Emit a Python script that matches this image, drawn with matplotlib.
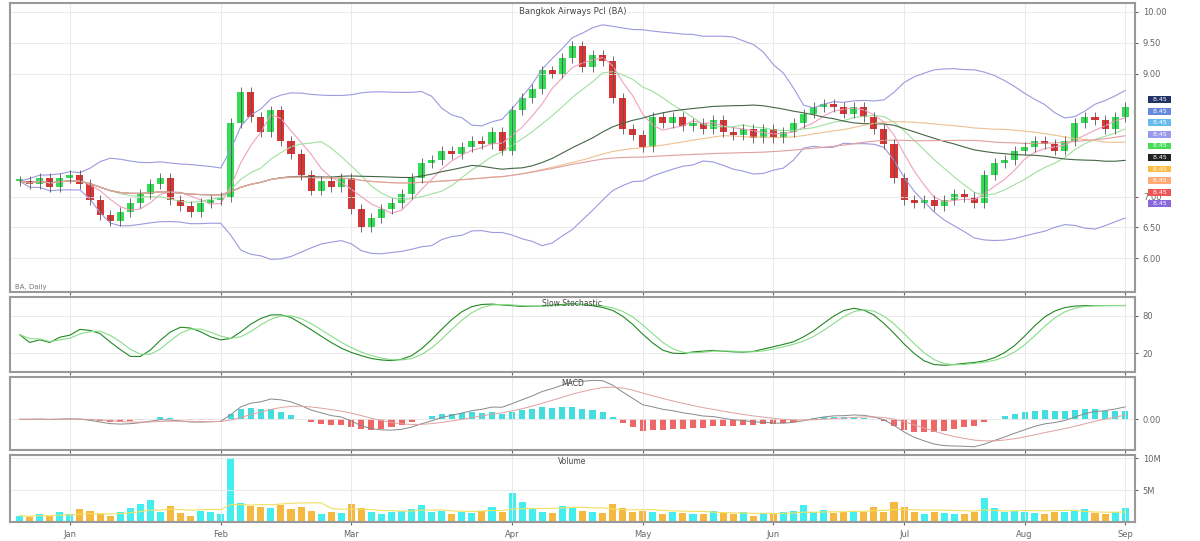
import numpy as np
import pandas as pd
import matplotlib
matplotlib.use("Agg")
import matplotlib.pyplot as plt

title = "Bangkok Airways Pcl (BA)"
closes = [7.25,7.2,7.3,7.15,7.3,7.35,7.2,6.95,
          6.7,6.6,6.75,6.9,7.05,7.2,
          7.3,6.95,6.85,6.75,6.9,6.95,
          7.0,8.2,8.7,8.3,8.05,8.4,7.9,7.7,
          7.35,7.1,7.25,7.15,7.3,6.8,
          6.5,6.65,6.8,6.9,7.05,7.3,
          7.55,7.6,7.75,7.7,7.8,7.9,7.85,8.05,7.75,
          8.4,8.6,8.75,9.05,9.0,9.25,
          9.45,9.1,9.3,9.2,
          8.6,8.1,8.0,7.8,
          8.3,8.2,8.3,8.15,8.2,8.1,
          8.25,8.05,8.0,8.1,7.95,8.1,
          7.95,8.05,8.2,8.35,8.45,8.5,
          8.45,8.35,8.45,8.3,8.1,7.85,
          7.3,6.95,6.9,6.95,6.85,6.95,
          7.05,7.0,6.9,
          7.35,7.55,7.6,7.75,7.8,7.9,
          7.85,7.75,7.9,8.2,8.3,8.25,8.1,8.3,8.45]
volumes = [1.0,0.8,1.2,0.9,1.5,1.3,2.0,1.8,
           1.2,1.0,1.5,2.2,2.8,3.5,
           1.5,2.5,1.4,1.0,1.8,1.6,
           1.2,10.0,3.0,2.5,2.4,2.2,2.6,2.0,
           2.4,1.8,1.2,1.5,1.4,2.8,
           2.2,1.6,1.3,1.5,1.8,2.0,
           2.6,1.5,1.8,1.2,1.6,1.4,1.8,2.4,1.5,
           4.5,3.2,2.0,1.6,1.4,2.5,
           2.2,1.8,1.6,1.4,
           2.8,2.2,1.6,1.8,
           1.6,1.2,1.5,1.4,1.2,1.3,
           1.8,1.4,1.2,1.6,1.0,1.4,
           1.2,1.5,1.8,2.6,1.6,1.9,
           1.4,1.6,1.8,1.5,2.4,1.6,
           3.2,2.4,1.5,1.2,1.6,1.4,
           1.3,1.2,1.6,
           3.8,2.2,1.5,1.8,1.6,1.4,
           1.2,1.5,1.6,1.8,2.0,1.4,1.2,1.6,2.2]
month_labels = ["Jan","Feb","Mar","Apr","May","Jun","Jul","Aug","Sep"]
month_pos = [5, 20, 33, 49, 62, 75, 88, 100, 110]

c = pd.Series(closes)
o = c.shift(1).fillna(c.iloc[0])
hi = np.maximum(o, c) + 0.08
lo = np.minimum(o, c) - 0.08
n = len(c)
x = np.arange(n)
up = c >= o

fig = plt.figure(figsize=(12, 5.41), dpi=100)
fig.patch.set_facecolor("white")
L, W = 0.008, 0.938
ax1 = fig.add_axes([L, 0.46, W, 0.535])
ax2 = fig.add_axes([L, 0.312, W, 0.139], sharex=ax1)
ax3 = fig.add_axes([L, 0.168, W, 0.135], sharex=ax1)
ax4 = fig.add_axes([L, 0.035, W, 0.124], sharex=ax1)

for a in (ax1, ax2, ax3, ax4):
    a.yaxis.tick_right()
    a.tick_params(labelsize=6, colors="#666666", length=2)
    a.grid(color="#e6e6e6", lw=0.6)
    for s in a.spines.values():
        s.set_color("#999999")
        s.set_linewidth(1.5)

# Bollinger + MAs
mid = c.rolling(20, min_periods=1).mean()
sd = c.rolling(20, min_periods=1).std().fillna(0)
ax1.plot(x, mid + 2*sd, color="#9a9ae0", lw=0.8)
ax1.plot(x, mid - 2*sd, color="#9a9ae0", lw=0.8)
ax1.plot(x, c.rolling(5, min_periods=1).mean(), color="#f0a0c0", lw=0.8)
ax1.plot(x, c.rolling(10, min_periods=1).mean(), color="#a0e0a0", lw=0.8)
ax1.plot(x, c.rolling(25, min_periods=1).mean(), color="#446644", lw=0.8)
ax1.plot(x, c.rolling(50, min_periods=1).mean(), color="#f0c090", lw=0.8)
ax1.plot(x, c.rolling(75, min_periods=1).mean(), color="#e0a0a0", lw=0.8)
ax1.vlines(x, lo, hi, color="#555555", lw=0.6)
ax1.bar(x, (c - o).abs().clip(lower=0.03), bottom=np.minimum(o, c), width=0.7,
        color=np.where(up, "#33dd55", "#dd3333"))
ax1.set_ylim(5.45, 10.15)
ax1.set_yticks([6.0, 6.5, 7.0, 9.0, 9.5, 10.0])
ax1.set_yticklabels(["6.00", "6.50", "7.00", "9.00", "9.50", "10.00"])
ax1.text(0.5, 0.985, title, transform=ax1.transAxes, fontsize=6, color="#444444",
         ha="center", va="top", bbox=dict(facecolor="white", edgecolor="none", pad=0.5))
ax1.text(0.005, 0.01, "BA, Daily", transform=ax1.transAxes, fontsize=5, color="#777777")
leg_cols = ["#223366","#6688dd","#66bbee","#9999ee","#44dd55","#222222","#ffbb44","#ffaa77","#ee5555","#8866dd"]
for i, col in enumerate(leg_cols):
    ax1.text(1.012, 0.66 - i*0.04, "  8.45  ", transform=ax1.transAxes, fontsize=4.5,
             color="white", bbox=dict(facecolor=col, edgecolor="none", pad=0.6))

# Slow stochastic
ll = c.rolling(14, min_periods=1).min()
hh = c.rolling(14, min_periods=1).max()
k = (100*(c - ll)/(hh - ll).replace(0, np.nan)).fillna(50).rolling(5, min_periods=1).mean()
k = k.rolling(3, min_periods=1).mean()
d = k.rolling(3, min_periods=1).mean()
ax2.plot(x, k, color="#228822", lw=0.8)
ax2.plot(x, d, color="#88dd88", lw=0.8)
ax2.set_ylim(-10, 110)
ax2.set_yticks([20, 80]); ax2.set_yticklabels(["20", "80"])
ax2.text(0.5, 0.97, "Slow Stochastic", transform=ax2.transAxes, fontsize=5.5, color="#444444", ha="center", va="top")

# MACD
e12 = c.ewm(span=12).mean(); e26 = c.ewm(span=26).mean()
macd = e12 - e26; sig = macd.ewm(span=9).mean(); hist = macd - sig
ax3.bar(x, hist, width=0.6, color=np.where(hist >= 0, "#44dddd", "#ee6666"))
ax3.plot(x, macd, color="#888888", lw=0.7)
ax3.plot(x, sig, color="#e0a0a0", lw=0.7)
ax3.set_yticks([0]); ax3.set_yticklabels(["0.00"])
ax3.text(0.5, 0.97, "MACD", transform=ax3.transAxes, fontsize=5.5, color="#444444", ha="center", va="top")

# Volume
v = pd.Series(volumes)
ax4.bar(x, v, width=0.7, color=np.where(up, "#44eeee", "#f5b942"))
ax4.plot(x, v.rolling(10, min_periods=1).mean(), color="#f0e060", lw=0.8)
ax4.set_ylim(0, 10.5)
ax4.set_yticks([5, 10]); ax4.set_yticklabels(["5M", "10M"])
ax4.text(0.5, 0.97, "Volume", transform=ax4.transAxes, fontsize=5.5, color="#444444", ha="center", va="top")
ax4.set_xticks(month_pos); ax4.set_xticklabels(month_labels)
ax4.set_xlim(-1, n)
for a in (ax1, ax2, ax3):
    plt.setp(a.get_xticklabels(), visible=False)

fig.savefig("out.png", dpi=100, facecolor="white")
